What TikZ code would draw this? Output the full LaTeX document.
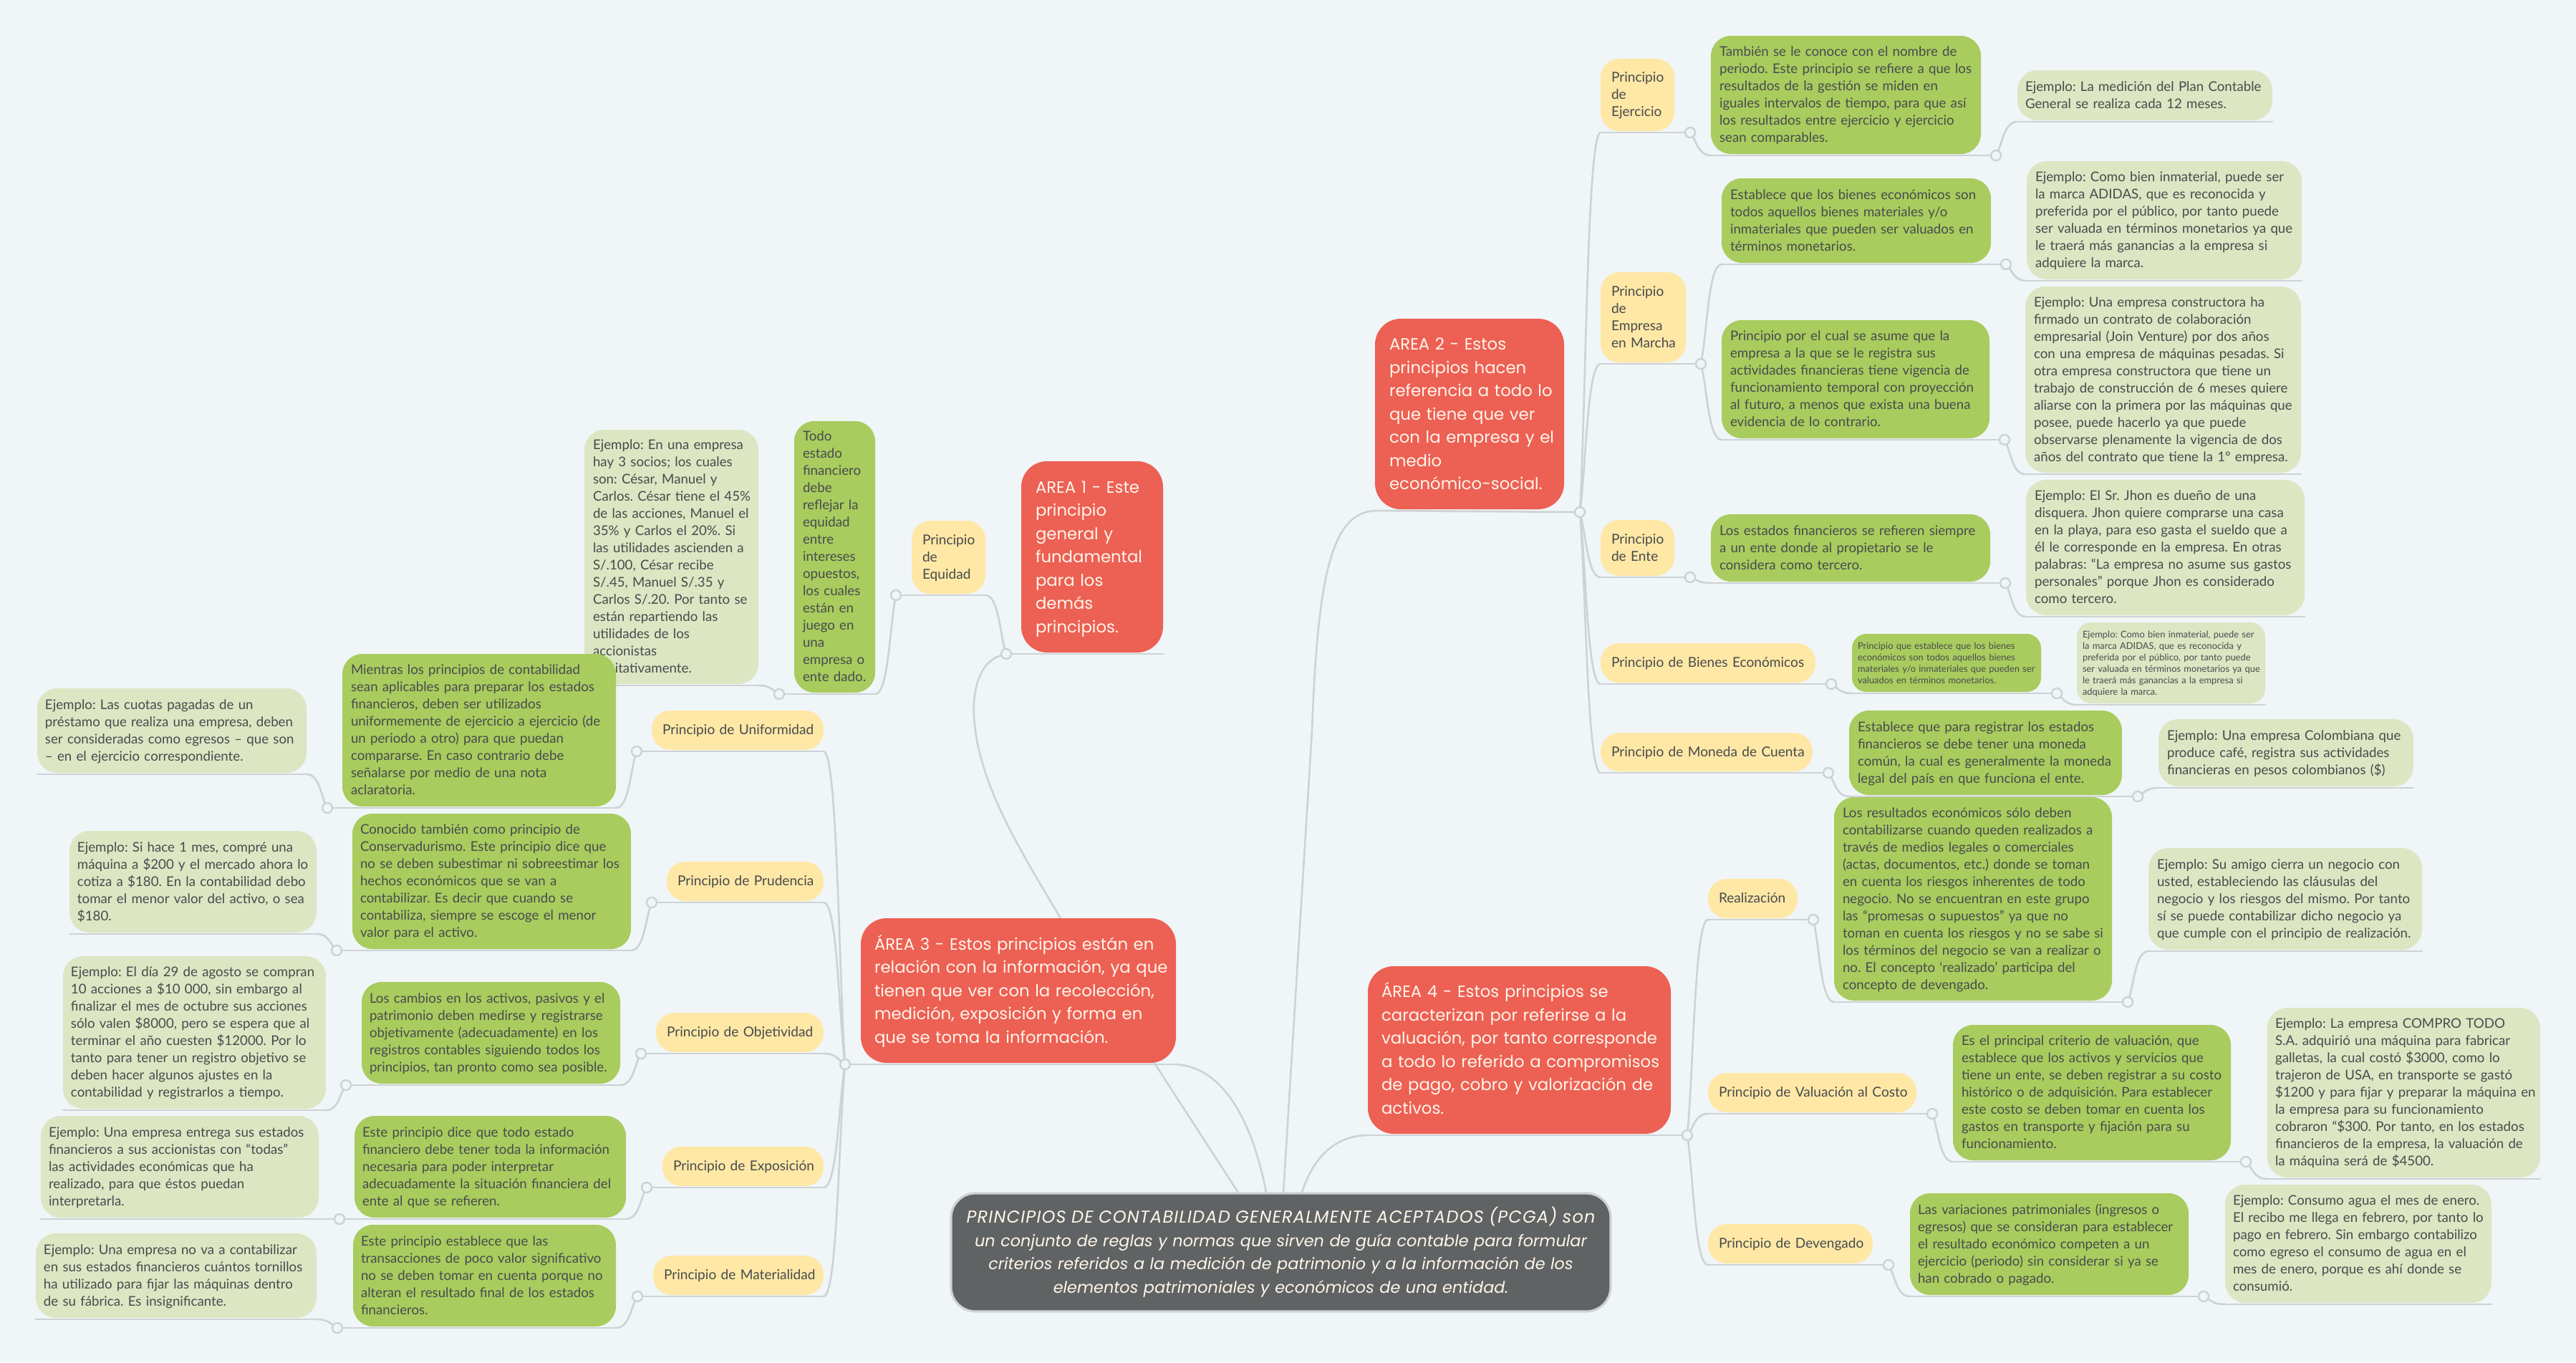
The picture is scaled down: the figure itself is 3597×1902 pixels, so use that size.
\documentclass[tikz,border=0pt]{standalone}
\usepackage{fontspec}
\setmainfont{Lato}
\newfontfamily\popf{Poppins}
\usetikzlibrary{calc}
\AtBeginDocument{\frenchspacing}
\definecolor{bgc}{HTML}{F0F5F8}
\definecolor{linec}{HTML}{CDD2D6}
\definecolor{txtc}{HTML}{484B4D}
\definecolor{yelc}{HTML}{FFE8A6}
\definecolor{grec}{HTML}{A8CC5E}
\definecolor{exac}{HTML}{DCE6C3}
\definecolor{redc}{HTML}{ED6054}
\definecolor{cenc}{HTML}{606363}
\definecolor{whic}{HTML}{FFF6EA}
\pgfdeclarelayer{bglayer}\pgfdeclarelayer{linelayer}
\pgfsetlayers{bglayer,linelayer,main}
\tikzset{
 boxbase/.style={inner sep=0pt,outer sep=0pt,align=left,text=txtc,font=\fontsize{9.35}{12}\selectfont},
 yel/.style={boxbase,fill=yelc,rounded corners=13pt,font=\fontsize{9.55}{12}\selectfont},
 gre/.style={boxbase,fill=grec,rounded corners=14pt},
 exa/.style={boxbase,fill=exac,rounded corners=14pt},
 gresm/.style={boxbase,fill=grec,rounded corners=10pt,font=\fontsize{6.45}{8}\selectfont},
 exasm/.style={boxbase,fill=exac,rounded corners=10pt,font=\fontsize{6.45}{8}\selectfont},
 redb/.style={boxbase,fill=redc,rounded corners=18pt,text=whic,font=\popf\fontsize{11.4}{16.25}\selectfont},
 cen/.style={inner sep=0pt,outer sep=0pt,align=center,fill=cenc,draw=linec,line width=1.6pt,rounded corners=17pt,text=whic,font=\popf\itshape\fontsize{11.2}{16.25}\selectfont},
 dotn/.style={circle,draw=linec,fill=bgc,line width=1.2pt,minimum size=7pt,inner sep=0pt},
 conn/.style={draw=linec,line width=1.3pt,line cap=round,line join=round},
}
\newcommand\bx[8]{%
 \node[#2,anchor=north west,text width={(#5-#3)*0.5pt},minimum height={(#6-#4)*0.5pt}] (#1) at (#3,#4)
 {\hspace*{\dimexpr #7pt/2\relax}\raisebox{-0.8pt}[\height][\depth]{\begin{tabular}{@{}l@{}}#8\end{tabular}}};
 \coordinate (#1-l) at (#3,{#6+2});
 \coordinate (#1-r) at (#5,{#6+2});
}
\newcommand\lnk[2]{\draw[conn] let \p1=(#1),\p2=(#2) in (\p1) .. controls ({\x1+.3*(\x2-\x1)},{\y1+.3*(\y2-\y1)}) and ({\x1+.35*(\x2-\x1)},\y2) .. (\p2);}
\begin{document}
\begin{tikzpicture}[x=0.5pt,y=-0.5pt]
\useasboundingbox (0,0) rectangle (3597,1902);
\begin{pgfonlayer}{bglayer}
\fill[bgc] (0,0) rectangle (3597,1902);
\end{pgfonlayer}
% ---- centre and areas
\node[cen,anchor=north west,text width={921*0.5pt},minimum height={165*0.5pt}] (root) at (1328,1666)
 {\raisebox{-0.8pt}[\height][\depth]{\begin{tabular}{@{}c@{}}{\fontsize{12}{16.25}\selectfont\addfontfeature{LetterSpace=5}PRINCIPIOS DE CONTABILIDAD GENERALMENTE ACEPTADOS (PCGA) son}\\un conjunto de reglas y normas que sirven de guía contable para formular\\criterios referidos a la medición de patrimonio y a la información de los\\elementos patrimoniales y económicos de una entidad.\end{tabular}}};
\coordinate (r1) at (1729,1665);
\coordinate (r3) at (1768,1665);
\coordinate (r2) at (1792,1665);
\coordinate (r4) at (1818,1665);
\bx{area1}{redb}{1426}{644}{1624}{911}{20}{AREA 1 - Este\\principio\\general y\\fundamental\\para los\\demás\\principios.}
\bx{area2}{redb}{1920}{445}{2184}{711}{20}{AREA 2 - Estos\\principios hacen\\referencia a todo lo\\que tiene que ver\\con la empresa y el\\medio\\económico-social.}
\bx{area3}{redb}{1202}{1282}{1642}{1484}{19}{ÁREA 3 - Estos principios están en\\relación con la información, ya que\\tienen que ver con la recolección,\\medición, exposición y forma en\\que se toma la información.}
\bx{area4}{redb}{1910}{1349}{2333}{1583}{19}{ÁREA 4 - Estos principios se\\caracterizan por referirse a la\\valuación, por tanto corresponde\\a todo lo referido a compromisos\\de pago, cobro y valorización de\\activos.}
\node[dotn] (a1d) at (1405,913) {};
\node[dotn] (a2d) at (2206,715) {};
\node[dotn] (a3d) at (1180,1486) {};
\node[dotn] (a4d) at (2356,1585) {};
% ---- area 2
\bx{ejer}{yel}{2235}{82}{2338}{183}{15}{Principio\\de\\Ejercicio}
\node[dotn] (ejerd) at (2360,185) {};
\bx{ejerg}{gre}{2389}{50}{2766}{215}{12}{También se le conoce con el nombre de\\periodo. Este principio se refiere a que los\\resultados de la gestión se miden en\\iguales intervalos de tiempo, para que así\\los resultados entre ejercicio y ejercicio\\sean comparables.}
\node[dotn] (ejergd) at (2787,217) {};
\bx{ejere}{exa}{2817}{98}{3173}{168}{11}{Ejemplo: La medición del Plan Contable\\General se realiza cada 12 meses.}
\bx{marc}{yel}{2235}{380}{2354}{506}{15}{Principio\\de\\Empresa\\en Marcha}
\node[dotn] (marcd) at (2375,508) {};
\bx{marcg}{gre}{2404}{249}{2780}{367}{12}{Establece que los bienes económicos son\\todos aquellos bienes materiales y/o\\inmateriales que pueden ser valuados en\\términos monetarios.}
\node[dotn] (marcgd) at (2801,369) {};
\bx{marce}{exa}{2830}{225}{3214}{390}{12}{Ejemplo: Como bien inmaterial, puede ser\\la marca ADIDAS, que es reconocida y\\preferida por el público, por tanto puede\\ser valuada en términos monetarios ya que\\le traerá más ganancias a la empresa si\\adquiere la marca.}
\bx{marh}{gre}{2404}{447}{2778}{612}{12}{Principio por el cual se asume que la\\empresa a la que se le registra sus\\actividades financieras tiene vigencia de\\funcionamiento temporal con proyección\\al futuro, a menos que exista una buena\\evidencia de lo contrario.}
\node[dotn] (marhd) at (2799,614) {};
\bx{mare}{exa}{2828}{400}{3213}{660}{12}{Ejemplo: Una empresa constructora ha\\firmado un contrato de colaboración\\empresarial (Join Venture) por dos años\\con una empresa de máquinas pesadas. Si\\otra empresa constructora que tiene un\\trabajo de construcción de 6 meses quiere\\aliarse con la primera por las máquinas que\\posee, puede hacerlo ya que puede\\observarse plenamente la vigencia de dos\\años del contrato que tiene la 1º empresa.}
\bx{ente}{yel}{2235}{726}{2338}{804}{15}{Principio\\de Ente}
\node[dotn] (ented) at (2360,806) {};
\bx{enteg}{gre}{2389}{718}{2779}{812}{12}{Los estados financieros se refieren siempre\\a un ente donde al propietario se le\\considera como tercero.}
\node[dotn] (entegd) at (2800,814) {};
\bx{entee}{exa}{2829}{670}{3218}{859}{12}{Ejemplo: El Sr. Jhon es dueño de una\\disquera. Jhon quiere comprarse una casa\\en la playa, para eso gasta el sueldo que a\\él le corresponde en la empresa. En otras\\palabras: “La empresa no asume sus gastos\\personales” porque Jhon es considerado\\como tercero.}
\bx{bien}{yel}{2235}{898}{2535}{953}{15}{Principio de Bienes Económicos}
\node[dotn] (biend) at (2557,955) {};
\bx{bieng}{gresm}{2586}{885}{2850}{966}{8}{Principio que establece que los bienes\\económicos son todos aquellos bienes\\materiales y/o inmateriales que pueden ser\\valuados en términos monetarios.}
\node[dotn] (biengd) at (2872,968) {};
\bx{biene}{exasm}{2900}{869}{3163}{982}{8}{Ejemplo: Como bien inmaterial, puede ser\\la marca ADIDAS, que es reconocida y\\preferida por el público, por tanto puede\\ser valuada en términos monetarios ya que\\le traerá más ganancias a la empresa si\\adquiere la marca.}
\bx{mone}{yel}{2235}{1023}{2531}{1077}{15}{Principio de Moneda de Cuenta}
\node[dotn] (moned) at (2553,1079) {};
\bx{moneg}{gre}{2582}{992}{2963}{1110}{12}{Establece que para registrar los estados\\financieros se debe tener una moneda\\común, la cual es generalmente la moneda\\legal del país en que funciona el ente.}
\node[dotn] (monegd) at (2985,1112) {};
\bx{monee}{exa}{3014}{1004}{3370}{1098}{12}{Ejemplo: Una empresa Colombiana que\\produce café, registra sus actividades\\financieras en pesos colombianos (\$)}
% ---- area 4
\bx{real}{yel}{2385}{1227}{2510}{1282}{15}{Realización}
\node[dotn] (reald) at (2532,1284) {};
\bx{realg}{gre}{2561}{1113}{2949}{1397}{12}{Los resultados económicos sólo deben\\contabilizarse cuando queden realizados a\\través de medios legales o comerciales\\(actas, documentos, etc.) donde se toman\\en cuenta los riesgos inherentes de todo\\negocio. No se encuentran en este grupo\\las “promesas o supuestos” ya que no\\toman en cuenta los riesgos y no se sabe si\\los términos del negocio se van a realizar o\\no. El concepto ‘realizado’ participa del\\concepto de devengado.}
\node[dotn] (realgd) at (2971,1399) {};
\bx{reale}{exa}{3000}{1184}{3382}{1326}{12}{Ejemplo: Su amigo cierra un negocio con\\usted, estableciendo las cláusulas del\\negocio y los riesgos del mismo. Por tanto\\sí se puede contabilizar dicho negocio ya\\que cumple con el principio de realización.}
\bx{valu}{yel}{2385}{1498}{2676}{1553}{15}{Principio de Valuación al Costo}
\node[dotn] (valud) at (2698,1555) {};
\bx{valug}{gre}{2727}{1431}{3115}{1620}{12}{Es el principal criterio de valuación, que\\establece que los activos y servicios que\\tiene un ente, se deben registrar a su costo\\histórico o de adquisición. Para establecer\\este costo se deben tomar en cuenta los\\gastos en transporte y fijación para su\\funcionamiento.}
\node[dotn] (valugd) at (3136,1622) {};
\bx{value}{exa}{3166}{1407}{3547}{1644}{11}{Ejemplo: La empresa COMPRO TODO\\S.A. adquirió una máquina para fabricar\\galletas, la cual costó \$3000, como lo\\trajeron de USA, en transporte se gastó\\\$1200 y para fijar y preparar la máquina en\\la empresa para su funcionamiento\\cobraron “\$300. Por tanto, en los estados\\financieros de la empresa, la valuación de\\la máquina será de \$4500.}
\bx{deve}{yel}{2385}{1709}{2615}{1764}{15}{Principio de Devengado}
\node[dotn] (deved) at (2637,1766) {};
\bx{deveg}{gre}{2667}{1666}{3056}{1808}{11}{Las variaciones patrimoniales (ingresos o\\egresos) que se consideran para establecer\\el resultado económico competen a un\\ejercicio (periodo) sin considerar si ya se\\han cobrado o pagado.}
\node[dotn] (devegd) at (3077,1810) {};
\bx{devee}{exa}{3107}{1654}{3479}{1819}{11}{Ejemplo: Consumo agua el mes de enero.\\El recibo me llega en febrero, por tanto lo\\pago en febrero. Sin embargo contabilizo\\como egreso el consumo de agua en el\\mes de enero, porque es ahí donde se\\consumió.}
% ---- area 1
\bx{equi}{yel}{1273}{727}{1376}{829}{15}{Principio\\de\\Equidad}
\node[dotn] (equid) at (1251,831) {};
\bx{equig}{gre}{1109}{588}{1222}{967}{12}{Todo\\estado\\financiero\\debe\\reflejar la\\equidad\\entre\\intereses\\opuestos,\\los cuales\\están en\\juego en\\una\\empresa o\\ente dado.}
\node[dotn] (equigd) at (1088,969) {};
\bx{equie}{exa}{816}{600}{1059}{955}{12}{Ejemplo: En una empresa\\hay 3 socios; los cuales\\son: César, Manuel y\\Carlos. César tiene el 45\%\\de las acciones, Manuel el\\35\% y Carlos el 20\%. Si\\las utilidades ascienden a\\S/.100, César recibe\\S/.45, Manuel S/.35 y\\Carlos S/.20. Por tanto se\\están repartiendo las\\utilidades de los\\accionistas\\equitativamente.}
% ---- area 3
\bx{unif}{yel}{910}{992}{1150}{1047}{15}{Principio de Uniformidad}
\node[dotn] (unifd) at (889,1049) {};
\bx{unifg}{gre}{478}{913}{860}{1126}{12}{Mientras los principios de contabilidad\\sean aplicables para preparar los estados\\financieros, deben ser utilizados\\uniformemente de ejercicio a ejercicio (de\\un periodo a otro) para que puedan\\compararse. En caso contrario debe\\señalarse por medio de una nota\\aclaratoria.}
\node[dotn] (unifgd) at (457,1128) {};
\bx{unife}{exa}{52}{961}{428}{1079}{11}{Ejemplo: Las cuotas pagadas de un\\préstamo que realiza una empresa, deben\\ser consideradas como egresos – que son\\– en el ejercicio correspondiente.}
\bx{prud}{yel}{931}{1203}{1150}{1258}{15}{Principio de Prudencia}
\node[dotn] (prudd) at (910,1260) {};
\bx{prudg}{gre}{492}{1136}{881}{1325}{11}{Conocido también como principio de\\Conservadurismo. Este principio dice que\\no se deben subestimar ni sobreestimar los\\hechos económicos que se van a\\contabilizar. Es decir que cuando se\\contabiliza, siempre se escoge el menor\\valor para el activo.}
\node[dotn] (prudgd) at (470,1327) {};
\bx{prude}{exa}{97}{1160}{442}{1302}{11}{Ejemplo: Si hace 1 mes, compré una\\máquina a \$200 y el mercado ahora lo\\cotiza a \$180. En la contabilidad debo\\tomar el menor valor del activo, o sea\\\$180.}
\bx{obje}{yel}{916}{1414}{1150}{1469}{15}{Principio de Objetividad}
\node[dotn] (objed) at (895,1471) {};
\bx{objeg}{gre}{505}{1371}{866}{1513}{11}{Los cambios en los activos, pasivos y el\\patrimonio deben medirse y registrarse\\objetivamente (adecuadamente) en los\\registros contables siguiendo todos los\\principios, tan pronto como sea posible.}
\node[dotn] (objegd) at (483,1515) {};
\bx{objee}{exa}{88}{1335}{455}{1548}{11}{Ejemplo: El día 29 de agosto se compran\\10 acciones a \$10 000, sin embargo al\\finalizar el mes de octubre sus acciones\\sólo valen \$8000, pero se espera que al\\terminar el año cuesten \$12000. Por lo\\tanto para tener un registro objetivo se\\deben hacer algunos ajustes en la\\contabilidad y registrarlos a tiempo.}
\bx{expo}{yel}{925}{1601}{1150}{1656}{15}{Principio de Exposición}
\node[dotn] (expod) at (903,1658) {};
\bx{expog}{gre}{495}{1558}{874}{1700}{11}{Este principio dice que todo estado\\financiero debe tener toda la información\\necesaria para poder interpretar\\adecuadamente la situación financiera del\\ente al que se refieren.}
\node[dotn] (expogd) at (474,1702) {};
\bx{expoe}{exa}{57}{1558}{445}{1700}{11}{Ejemplo: Una empresa entrega sus estados\\financieros a sus accionistas con “todas”\\las actividades económicas que ha\\realizado, para que éstos puedan\\interpretarla.}
\bx{mate}{yel}{912}{1753}{1150}{1808}{15}{Principio de Materialidad}
\node[dotn] (mated) at (890,1810) {};
\bx{mateg}{gre}{493}{1710}{860}{1852}{11}{Este principio establece que las\\transacciones de poco valor significativo\\no se deben tomar en cuenta porque no\\alteran el resultado final de los estados\\financieros.}
\node[dotn] (categd) at (471,1854) {};
\bx{matee}{exa}{50}{1722}{442}{1840}{11}{Ejemplo: Una empresa no va a contabilizar\\en sus estados financieros cuántos tornillos\\ha utilizado para fijar las máquinas dentro\\de su fábrica. Es insignificante.}
\begin{pgfonlayer}{linelayer}
% root to areas
\draw[conn] (a1d) .. controls (1365,925) and (1358,970) .. (1360,1000) .. controls (1365,1090) and (1420,1180) .. (1481,1282) -- (r1);
\draw[conn] (area3-r) .. controls (1710,1490) and (1750,1570) .. (r3);
\draw[conn] (area2-l) .. controls (1860,716) and (1840,800) .. (1832,1020) -- (r2);
\draw[conn] (area4-l) .. controls (1870,1585) and (1835,1610) .. (r4);
\draw[conn] (a1d) -- (area1-r);
\draw[conn] (a3d) -- (area3-r);
\draw[conn] (area2-l) -- (a2d);
\draw[conn] (area4-l) -- (a4d);
% area 1
\lnk{a1d}{equi-r}\draw[conn] (equi-r) -- (equid);
\lnk{equid}{equig-r}\draw[conn] (equig-r) -- (equigd);
\lnk{equigd}{equie-r}\draw[conn] (equie-r) -- (equie-l);
% area 2
\foreach \pn/\dn/\gn/\gdn/\en in {ejer/ejerd/ejerg/ejergd/ejere,ente/ented/enteg/entegd/entee,bien/biend/bieng/biengd/biene,mone/moned/moneg/monegd/monee}{
 \lnk{a2d}{\pn-l}\draw[conn] (\pn-l) -- (\dn);
 \lnk{\dn}{\gn-l}\draw[conn] (\gn-l) -- (\gdn);
 \lnk{\gdn}{\en-l}\draw[conn] (\en-l) -- (\en-r);
}
\lnk{a2d}{marc-l}\draw[conn] (marc-l) -- (marcd);
\lnk{marcd}{marcg-l}\draw[conn] (marcg-l) -- (marcgd);
\lnk{marcgd}{marce-l}\draw[conn] (marce-l) -- (marce-r);
\lnk{marcd}{marh-l}\draw[conn] (marh-l) -- (marhd);
\lnk{marhd}{mare-l}\draw[conn] (mare-l) -- (mare-r);
% area 4
\foreach \pn/\dn/\gn/\gdn/\en in {real/reald/realg/realgd/reale,valu/valud/valug/valugd/value,deve/deved/deveg/devegd/devee}{
 \lnk{a4d}{\pn-l}\draw[conn] (\pn-l) -- (\dn);
 \lnk{\dn}{\gn-l}\draw[conn] (\gn-l) -- (\gdn);
 \lnk{\gdn}{\en-l}\draw[conn] (\en-l) -- (\en-r);
}
% area 3
\foreach \pn/\dn/\gn/\gdn/\en in {unif/unifd/unifg/unifgd/unife,prud/prudd/prudg/prudgd/prude,obje/objed/objeg/objegd/objee,expo/expod/expog/expogd/expoe,mate/mated/mateg/categd/matee}{
 \lnk{a3d}{\pn-r}\draw[conn] (\pn-r) -- (\dn);
 \lnk{\dn}{\gn-r}\draw[conn] (\gn-r) -- (\gdn);
 \lnk{\gdn}{\en-r}\draw[conn] (\en-r) -- (\en-l);
}
\end{pgfonlayer}
\end{tikzpicture}
\end{document}
